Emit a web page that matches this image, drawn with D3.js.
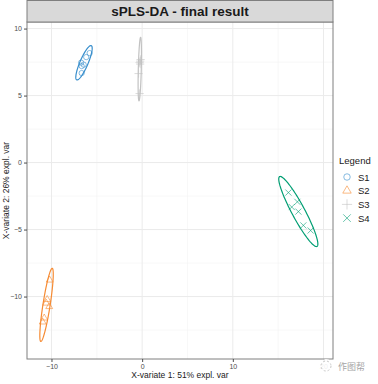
<!DOCTYPE html>
<meta charset="utf-8">

<!-- CSS styling-->
<style>
  body {
    margin: 0;
    background: #fff;
  }

  svg {
    font-family: "Liberation Sans", Arial, sans-serif;
  }
</style>

<svg id='svg' width="378" height="384"></svg>

<script src="https://d3js.org/d3.v7.min.js"></script>
<script>

// ----------------------------------------------------------------------------
//                               DATA
// ----------------------------------------------------------------------------
var groups = ['S1', 'S2', 'S3', 'S4'];

// Component 1 scores
var compX = {
  S1: [-5.79, -6.17, -6.73, -6.45, -6.67, -6.67],
  S2: [-10.20, -10.47, -10.58, -10.25, -10.80, -10.97],
  S3: [-0.17, -0.22, -0.28, -0.22, -0.39, -0.28],
  S4: [16.13, 17.12, 16.50, 17.23, 17.78, 18.58]
};

// Component 2 scores
var compY = {
  S1: [8.17, 7.87, 7.46, 7.31, 7.20, 6.68],
  S2: [-8.77, -10.22, -10.49, -10.75, -11.60, -11.90],
  S3: [7.69, 7.57, 7.46, 7.35, 6.64, 5.15],
  S4: [-2.24, -2.93, -3.32, -3.66, -4.69, -5.07]
};

var xTicks = [-10, 0, 10, 20];
var yTicks = [-10, -5, 0, 5, 10];
var xMinor = [-5, 5, 15];
var yMinor = [-12.5, -7.5, -2.5, 2.5, 7.5];

var titleText = 'sPLS-DA - final result';
var xLabel = 'X-variate 1: 51% expl. var';
var yLabel = 'X-variate 2: 26% expl. var';

// ----------------------------------------------------------------------------
//                             FUNCTIONS
// ----------------------------------------------------------------------------
var colors = {S1: '#388ECC', S2: '#F68B33', S3: '#C2C2C2', S4: '#009E73'};
var shapes = {S1: d3.symbolCircle, S2: d3.symbolTriangle2,
              S3: d3.symbolPlus,   S4: d3.symbolTimes};
var sizes  = {S1: 22, S2: 34, S3: 24, S4: 26};

// 95% confidence ellipse from the covariance of the group's scores.
function ellipsePoints(xs, ys) {
  var n = xs.length,
      mx = d3.mean(xs), my = d3.mean(ys),
      sxx = 0, syy = 0, sxy = 0;
  for (var i=0; i<n; i++) {
    sxx += (xs[i]-mx)*(xs[i]-mx);
    syy += (ys[i]-my)*(ys[i]-my);
    sxy += (xs[i]-mx)*(ys[i]-my);
  }
  sxx /= n-1; syy /= n-1; sxy /= n-1;
  // eigen decomposition of 2x2 matrix
  var tr = sxx + syy, det = sxx*syy - sxy*sxy,
      l1 = tr/2 + Math.sqrt(tr*tr/4 - det),
      l2 = tr/2 - Math.sqrt(tr*tr/4 - det),
      ang = Math.atan2(l1 - sxx, sxy);
  if (Math.abs(sxy) < 1e-12) ang = sxx >= syy ? 0 : Math.PI/2;
  var t = Math.sqrt(-2*Math.log(1-0.95)); // sqrt(qchisq(0.95, 2))
  var pts = [];
  for (var k=0; k<120; k++) {
    var a = 2*Math.PI*k/120,
        u = t*Math.sqrt(l1)*Math.cos(a),
        v = t*Math.sqrt(l2)*Math.sin(a);
    pts.push([mx + u*Math.cos(ang) - v*Math.sin(ang),
              my + u*Math.sin(ang) + v*Math.cos(ang)]);
  }
  return pts;
}

// ----------------------------------------------------------------------------
//                              Create Plot
// ----------------------------------------------------------------------------
var svg = d3.select("svg");

var panel = {left: 27, right: 333, top: 22, bottom: 359};

var x = d3.scaleLinear().domain([-12.7, 21.05]).range([panel.left, panel.right]);
var y = d3.scaleLinear().domain([-14.66, 10.49]).range([panel.bottom, panel.top]);

// Minor grid
svg.append("g").selectAll("line").data(xMinor).enter().append("line")
    .attr("x1", function(d) { return x(d); }).attr("x2", function(d) { return x(d); })
    .attr("y1", panel.top).attr("y2", panel.bottom)
    .attr("stroke", "#f2f2f2").attr("stroke-width", 0.6);
svg.append("g").selectAll("line").data(yMinor).enter().append("line")
    .attr("y1", function(d) { return y(d); }).attr("y2", function(d) { return y(d); })
    .attr("x1", panel.left).attr("x2", panel.right)
    .attr("stroke", "#f2f2f2").attr("stroke-width", 0.6);

// Major grid
svg.append("g").selectAll("line").data(xTicks).enter().append("line")
    .attr("x1", function(d) { return x(d); }).attr("x2", function(d) { return x(d); })
    .attr("y1", panel.top).attr("y2", panel.bottom)
    .attr("stroke", "#ebebeb").attr("stroke-width", 1);
svg.append("g").selectAll("line").data(yTicks).enter().append("line")
    .attr("y1", function(d) { return y(d); }).attr("y2", function(d) { return y(d); })
    .attr("x1", panel.left).attr("x2", panel.right)
    .attr("stroke", "#ebebeb").attr("stroke-width", 1);

// Ellipses and points
var line = d3.line()
    .x(function(d) { return x(d[0]); })
    .y(function(d) { return y(d[1]); })
    .curve(d3.curveLinearClosed);

groups.forEach(function(g) {
  svg.append("path")
      .attr("d", line(ellipsePoints(compX[g], compY[g])))
      .attr("fill", "none")
      .attr("stroke", colors[g])
      .attr("stroke-width", 1.2);

  var pts = compX[g].map(function(v, i) { return [v, compY[g][i]]; });
  svg.append("g").selectAll("path").data(pts).enter().append("path")
      .attr("transform", function(d) { return "translate(" + x(d[0]) + "," + y(d[1]) + ")"; })
      .attr("d", d3.symbol().type(shapes[g]).size(sizes[g]))
      .attr("fill", "none")
      .attr("stroke", colors[g])
      .attr("stroke-opacity", 0.75)
      .attr("stroke-width", 0.8);
});

// Panel border
svg.append("rect")
    .attr("x", panel.left).attr("y", panel.top)
    .attr("width", panel.right - panel.left).attr("height", panel.bottom - panel.top)
    .attr("fill", "none").attr("stroke", "#7f7f7f").attr("stroke-width", 1);

// Strip with title
svg.append("rect")
    .attr("x", panel.left).attr("y", 0.5)
    .attr("width", panel.right - panel.left).attr("height", panel.top - 0.5)
    .attr("fill", "#d9d9d9").attr("stroke", "#7f7f7f").attr("stroke-width", 1);
svg.append("text")
    .attr("x", (panel.left + panel.right)/2).attr("y", 16)
    .attr("text-anchor", "middle")
    .attr("font-size", "13.5px").attr("font-weight", "bold")
    .attr("fill", "#1a1a1a")
    .text(titleText);

// Axes
var xAxis = svg.append("g")
    .attr("transform", "translate(0," + panel.bottom + ")")
    .call(d3.axisBottom(x).tickValues(xTicks).tickSize(3).tickPadding(2)
            .tickFormat(d3.format("d")));
var yAxis = svg.append("g")
    .attr("transform", "translate(" + panel.left + ",0)")
    .call(d3.axisLeft(y).tickValues(yTicks).tickSize(3).tickPadding(2)
            .tickFormat(d3.format("d")));
[xAxis, yAxis].forEach(function(a) {
  a.select(".domain").remove();
  a.selectAll("line").attr("stroke", "#4d4d4d");
  a.selectAll("text").attr("fill", "#4d4d4d")
      .attr("font-size", "7px")
      .attr("font-family", "Liberation Sans, Arial, sans-serif");
});

// Axis titles
svg.append("text")
    .attr("x", (panel.left + panel.right)/2).attr("y", 378)
    .attr("text-anchor", "middle").attr("font-size", "8.5px")
    .attr("fill", "#1a1a1a")
    .text(xLabel);
svg.append("text")
    .attr("transform", "translate(9," + (panel.top + panel.bottom)/2 + ") rotate(-90)")
    .attr("text-anchor", "middle").attr("font-size", "8.5px")
    .attr("fill", "#1a1a1a")
    .text(yLabel);

// Legend
var legend = svg.append("g").attr("transform", "translate(339,0)");
legend.append("text")
    .attr("x", 0).attr("y", 164)
    .attr("font-size", "9.5px").attr("fill", "#1a1a1a")
    .text("Legend");
var item = legend.selectAll("g.item").data(groups).enter().append("g")
    .attr("class", "item")
    .attr("transform", function(d, i) { return "translate(0," + (177 + i*13.7) + ")"; });
item.append("path")
    .attr("transform", "translate(8,0)")
    .attr("d", function(d) { return d3.symbol().type(shapes[d]).size(sizes[d]*1.5)(); })
    .attr("fill", "none")
    .attr("stroke", function(d) { return colors[d]; })
    .attr("stroke-opacity", 0.75)
    .attr("stroke-width", 0.8);
item.append("text")
    .attr("x", 19).attr("y", 3.5)
    .attr("font-size", "9.5px").attr("fill", "#1a1a1a")
    .text(function(d) { return d; });

// Watermark
var wm = svg.append("g").attr("transform", "translate(326,366)");
wm.append("circle").attr("r", 7).attr("fill", "#fff").attr("fill-opacity", 0.9);
wm.append("circle").attr("r", 5).attr("fill", "none")
    .attr("stroke", "#c8c8c8").attr("stroke-width", 1).attr("stroke-dasharray", "2,2");
wm.append("text")
    .attr("x", 12).attr("y", 3.5)
    .attr("font-size", "9px").attr("fill", "#a6a6a6")
    .attr("font-family", "Noto Sans CJK SC")
    .text("作图帮");

</script>
